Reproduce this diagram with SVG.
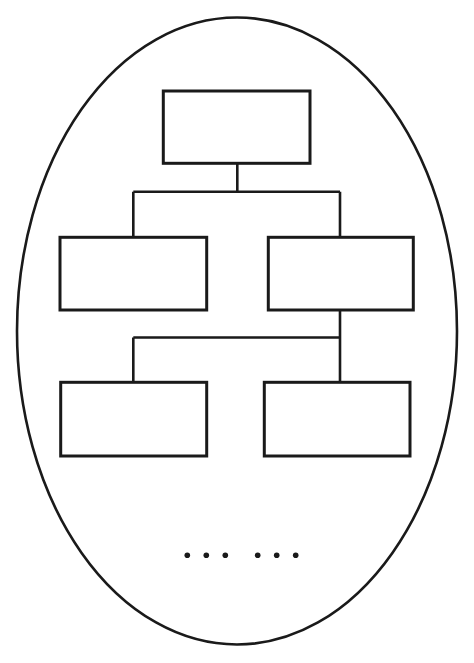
<svg xmlns="http://www.w3.org/2000/svg" width="474" height="663" viewBox="0 0 474 663">
<style>
.box{fill:#fff;stroke:#1a1a1a;stroke-width:3}
.ln{fill:none;stroke:#1a1a1a;stroke-width:2.6}
.dot{fill:#1a1a1a}
</style>
<rect width="474" height="663" fill="#fff"/>
<g id="outline"><ellipse cx="237" cy="331" rx="220" ry="313.5" fill="none" stroke="#1a1a1a" stroke-width="2.6"/></g>
<g id="connectors">
<path class="ln" d="M237.3 163 V191.7 M133.3 191.7 H340 M133.3 191.7 V237.3 M340 191.7 V237.3"/>
<path class="ln" d="M340 310 V382.3 M133.3 337.5 H340 M133.3 337.5 V382.3"/>
</g>
<g id="n-top"><rect class="box" x="163.3" y="91" width="146.7" height="72.3"/></g>
<g id="n-mid-left"><rect class="box" x="60" y="237.3" width="146.7" height="72.7"/></g>
<g id="n-mid-right"><rect class="box" x="268.3" y="237.3" width="145" height="72.7"/></g>
<g id="n-bot-left"><rect class="box" x="60.7" y="382.3" width="146" height="73.7"/></g>
<g id="n-bot-right"><rect class="box" x="264.3" y="382.3" width="145.7" height="73.7"/></g>
<g id="ellipsis">
<circle class="dot" cx="187.3" cy="555.3" r="2.8"/>
<circle class="dot" cx="206.3" cy="555.3" r="2.8"/>
<circle class="dot" cx="225.3" cy="555.3" r="2.8"/>
<circle class="dot" cx="257.7" cy="555.3" r="2.8"/>
<circle class="dot" cx="276.7" cy="555.3" r="2.8"/>
<circle class="dot" cx="295.7" cy="555.3" r="2.8"/>
</g>
</svg>
